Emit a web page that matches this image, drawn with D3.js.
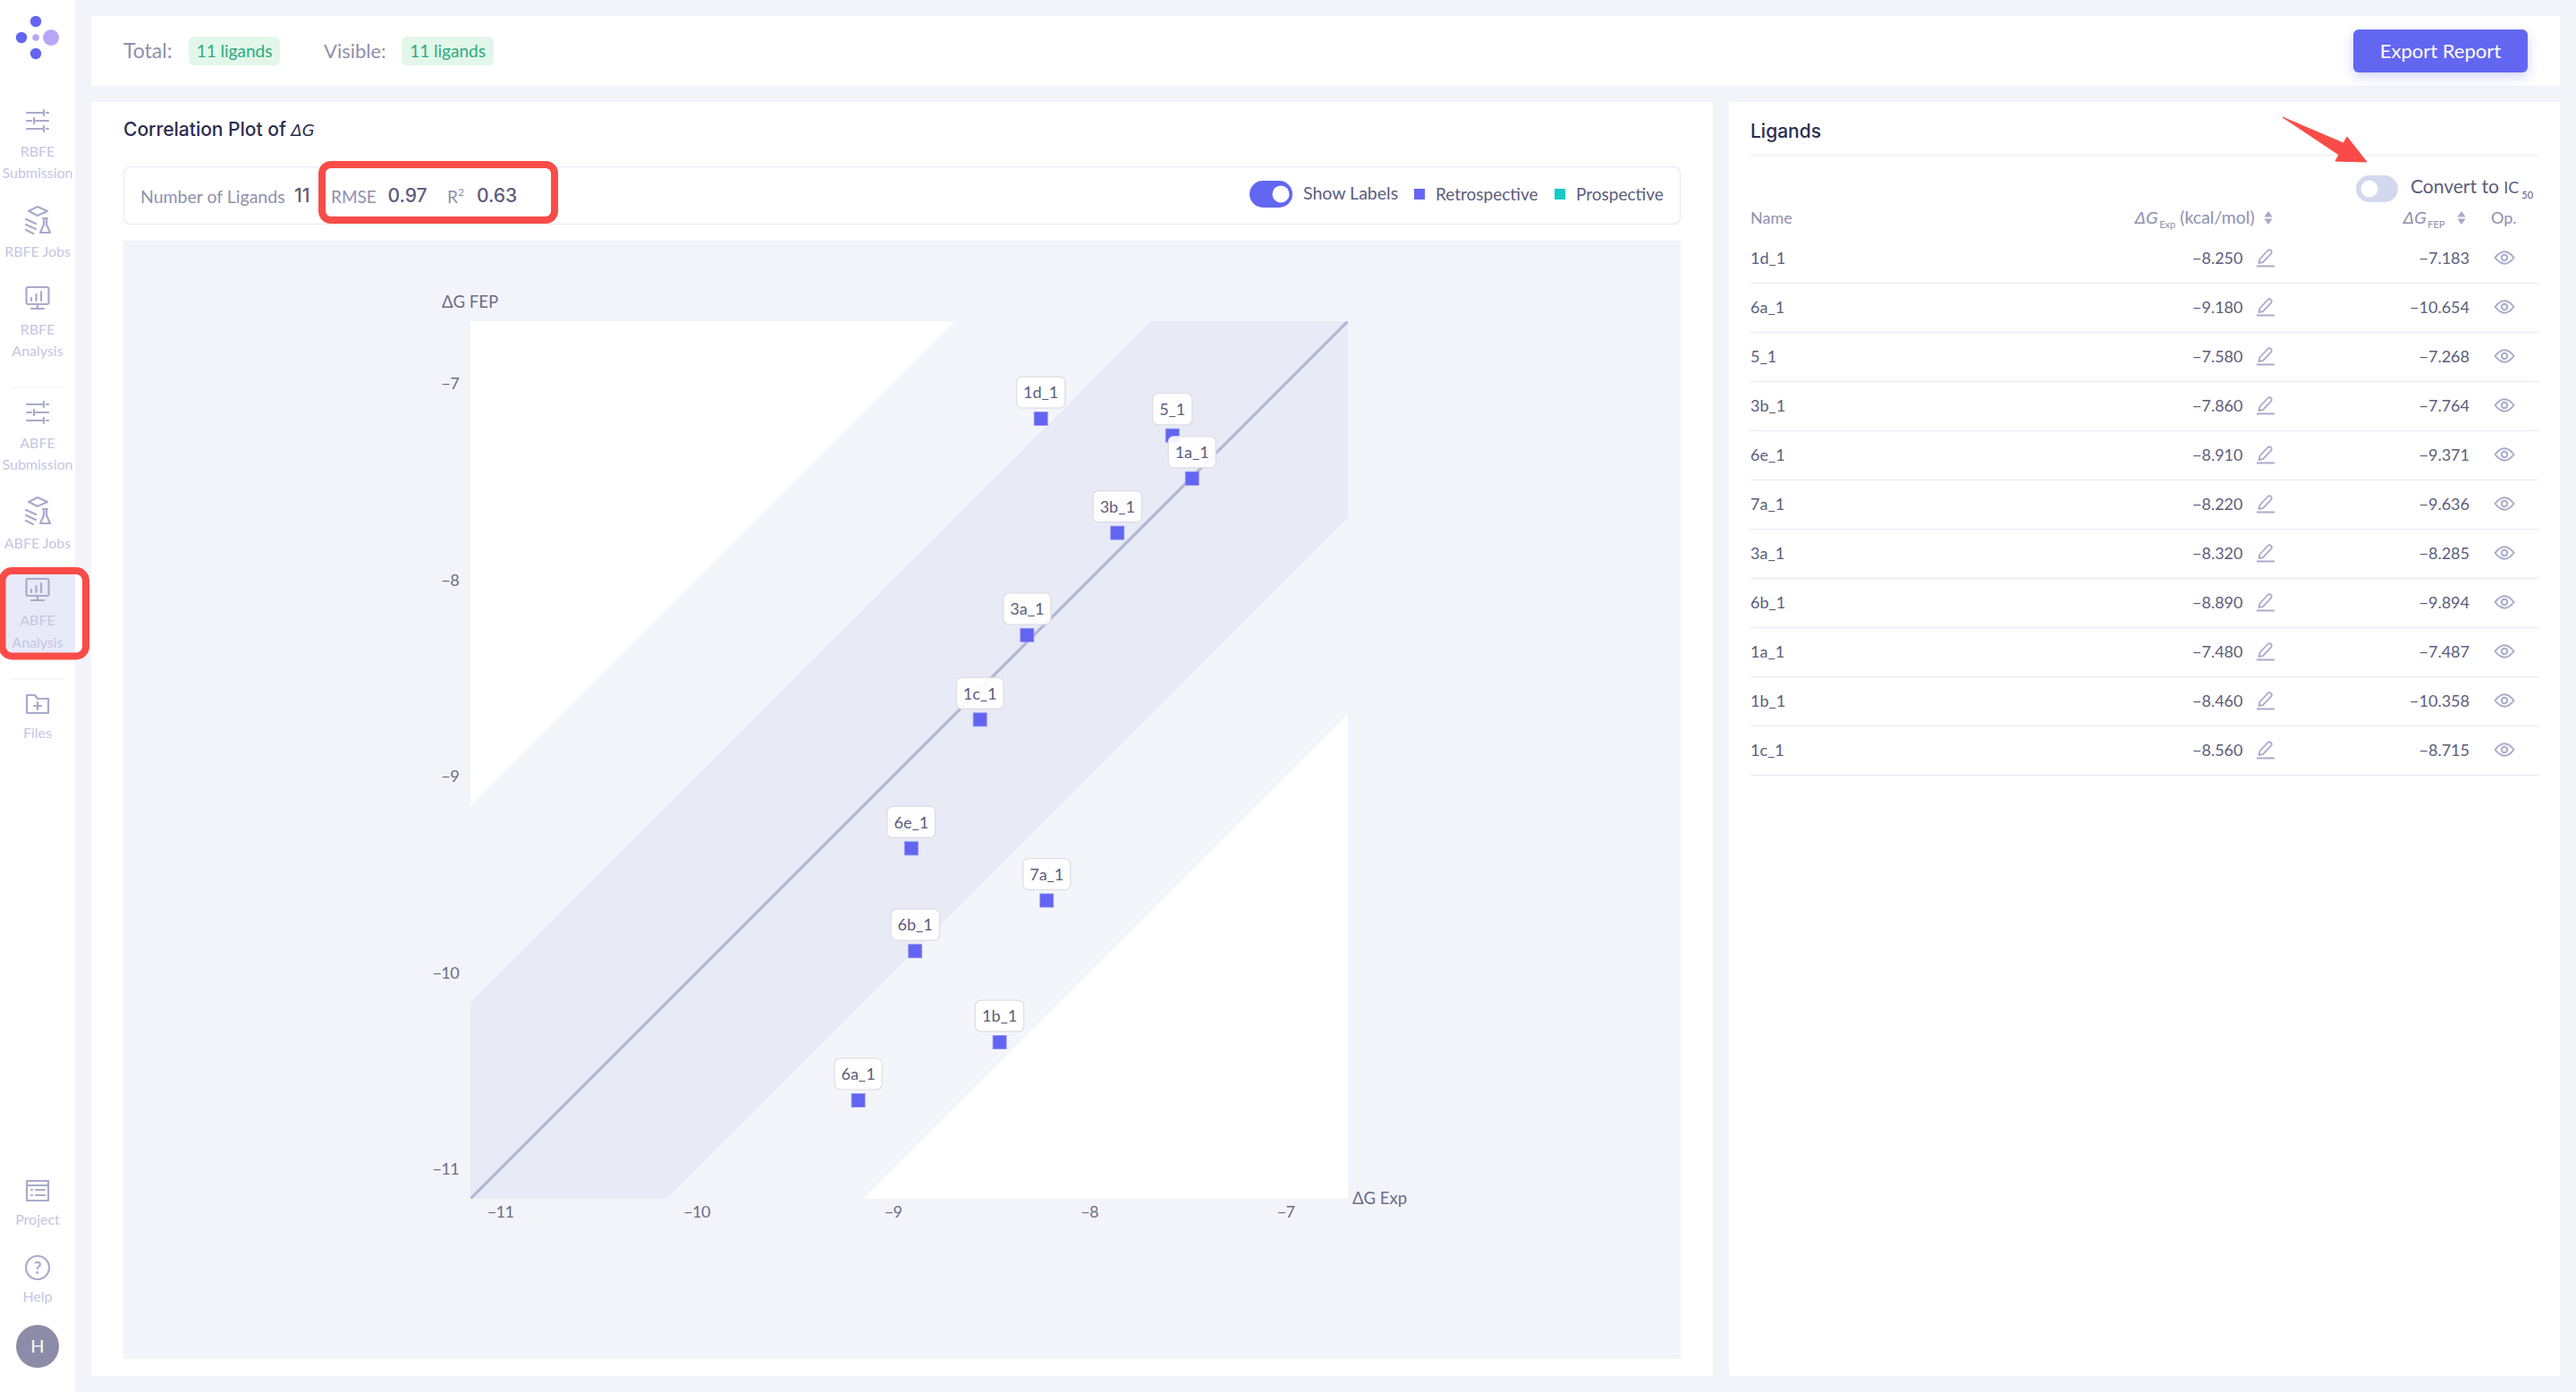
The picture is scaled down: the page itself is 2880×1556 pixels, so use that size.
<!DOCTYPE html>
<html><head><meta charset="utf-8">
<script src="https://cdn.jsdelivr.net/npm/d3@7"></script>
<style>
html,body{margin:0;padding:0;background:#f3f4f9;overflow:hidden}
svg{display:block}
text{font-family:Lato,"Open Sans",sans-serif}
</style></head><body><svg id="c" width="2880" height="1556"></svg>
<script>
// ---- data ----
const ligandNames=["1d_1","6a_1","5_1","3b_1","6e_1","7a_1","3a_1","6b_1","1a_1","1b_1","1c_1"];
const dgExp=[-8.25,-9.18,-7.58,-7.86,-8.91,-8.22,-8.32,-8.89,-7.48,-8.46,-8.56];
const dgFep=[-7.183,-10.654,-7.268,-7.764,-9.371,-9.636,-8.285,-9.894,-7.487,-10.358,-8.715];
const axisTicks=[-11,-10,-9,-8,-7];
const axisDomain=[-11.155,-6.686];
const bandWidths=[2,1];
const legendItems=["Retrospective","Prospective"];
const stats={n:"11",rmse:"0.97",r2:"0.63"};

const BG="#f3f4f9",IND="#6366f1",ICON="#a9aacb",SIDE="#c5c6e2",DARK="#2b2d4e",MID="#5c5d7c",SOFT="#8f90ae";
const HEAD="Inter";
const svg=d3.select("#c");
function R(x,y,w,h,fill,o={}){return svg.append("rect").attr("x",x).attr("y",y).attr("width",w).attr("height",h).attr("fill",fill).attr("rx",o.r||0).attr("stroke",o.stroke||"none").attr("stroke-width",o.sw||0);}
function T(x,y,s,size,fill,o={}){return (o.g||svg).append("text").attr("x",x).attr("y",y).attr("dy","0.35em").attr("font-size",size).attr("fill",fill).attr("text-anchor",o.a||"start").attr("font-weight",o.w||400).attr("font-style",o.i?"italic":null).text(s);}

// ---- page frame ----
R(0,0,2880,1556,BG);
R(0,0,84,1556,"#fff");
R(102,18,2760,78,"#fff");
R(102,114,1813,1424,"#fff");
R(1933,114,929,1424,"#fff");

// ---- top bar ----
T(138,57,"Total:",23,SOFT);
R(211,41,102,32,"#e2f7e9",{r:6});
T(262,57,"11 ligands",19,"#2fa97f",{a:"middle"});
T(362,57,"Visible:",22,SOFT);
R(449,41,103,32,"#e2f7e9",{r:6});
T(500.5,57,"11 ligands",19,"#2fa97f",{a:"middle"});
R(2631,33,195,48,IND,{r:6}).style("filter","drop-shadow(0 5px 7px rgba(99,102,241,.28))");
T(2728.5,57,"Export Report",22,"#fff",{a:"middle"});

// ---- left panel header ----
const title=T(138,145,"Correlation Plot of ",21,DARK,{w:500}).style("font-family",HEAD);
title.append("tspan").attr("font-style","italic").attr("font-size",18).style("font-family","'DejaVu Sans'").text("ΔG");
R(138.5,186.5,1740,64,"#fff",{r:7,stroke:"#ececf8",sw:1.5});
T(157,220,"Number of Ligands",19.5,SOFT);
T(329,219,stats.n,21,MID,{w:500}).style("font-family",HEAD);
T(370,220,"RMSE",19,SOFT);
T(433.5,219,stats.rmse,21,MID,{w:500}).style("font-family",HEAD);
const r2=T(500,220,"R",19,SOFT);
r2.append("tspan").attr("font-size",12).attr("dy","-0.6em").text("2");
T(533,219,stats.r2,21,MID,{w:500}).style("font-family",HEAD);

// toggle and legend
R(1397,202,48,30,IND,{r:15});
svg.append("circle").attr("cx",1432).attr("cy",217).attr("r",9.5).attr("fill","#fff");
T(1457,216,"Show Labels",19.5,MID);
R(1581,211,12,12,IND);
T(1605,217,legendItems[0],19,MID);
R(1738,211,12,12,"#17c9c9");
T(1762,217,legendItems[1],19,MID);

// ---- plot ----
R(138,269,1741,1250,BG);
const x=d3.scaleLinear().domain(axisDomain).range([526,1507]);
const y=d3.scaleLinear().domain(axisDomain).range([1340,359]);
svg.append("clipPath").attr("id","plotClip").append("rect").attr("x",526).attr("y",359).attr("width",981).attr("height",981);
R(526,359,981,981,"#fff");
const plot=svg.append("g").attr("clip-path","url(#plotClip)");
const bandFill=["#f4f5fb","#e8eaf6"];
bandWidths.forEach((k,i)=>{
  plot.append("path").datum(axisDomain)
    .attr("fill",bandFill[i])
    .attr("d",d3.area().x(d=>x(d)).y0(d=>y(d-k)).y1(d=>y(d+k)));
});
plot.append("path").datum(axisDomain).attr("fill","none").attr("stroke","#b4b5d5").attr("stroke-width",3.2)
  .attr("d",d3.line().x(d=>x(d)).y(d=>y(d)));

const fmtTick=d3.format("d");
const gx=svg.append("g").attr("transform","translate(-1,1341)").call(d3.axisBottom(x).tickValues(axisTicks).tickFormat(fmtTick).tickSize(0).tickPadding(7));
const gy=svg.append("g").attr("transform","translate(526,1)").call(d3.axisLeft(y).tickValues(axisTicks).tickFormat(fmtTick).tickSize(0).tickPadding(13));
[gx,gy].forEach(g=>{g.select(".domain").remove();g.selectAll("text").attr("font-size",18).attr("fill","#6c6d88").attr("font-family","Lato").attr("letter-spacing",-.6);});
T(494,338,"ΔG FEP",18.5,"#6c6d88");
T(1512,1340,"ΔG Exp",18.5,"#6c6d88");

const pts=ligandNames.map((n,i)=>({n,ex:dgExp[i],fe:dgFep[i]}));
const pg=svg.append("g");
pg.selectAll("rect.pt").data(pts).join("rect").attr("class","pt")
  .attr("x",d=>x(d.ex)-7.5).attr("y",d=>y(d.fe)-7.5).attr("width",15).attr("height",15)
  .attr("fill","#6264f2").attr("stroke","#8d8ff5").attr("stroke-width",.8);
pts.forEach(d=>{
  const g=pg.append("g");
  const box=g.append("rect");
  const t=T(x(d.ex),y(d.fe)-29,d.n,18,MID,{a:"middle",g});
  const w=t.node().getComputedTextLength()+15;
  box.attr("x",x(d.ex)-w/2).attr("y",y(d.fe)-47).attr("width",w).attr("height",35).attr("rx",6)
    .attr("fill","rgba(255,255,255,.92)").attr("stroke","#dcdce2").attr("stroke-width",1.2);
});

// ---- right table ----
T(1957,147,"Ligands",21,DARK,{w:500}).style("font-family",HEAD);
svg.append("line").attr("x1",1957).attr("x2",2838).attr("y1",173.5).attr("y2",173.5).attr("stroke","#eeeef5").attr("stroke-width",1.5);
R(2634,196,47,30,"#d3d8ef",{r:15});
svg.append("circle").attr("cx",2649).attr("cy",211).attr("r",9.5).attr("fill","#fff");
const conv=T(2695,209,"Convert to ",21,MID);
conv.append("tspan").text("IC").attr("font-size",18);
conv.append("tspan").text("50").attr("font-size",11).attr("dy","0.5em").attr("dx",3);

T(1957,244,"Name",18,SOFT);
function dgHead(xp,sub,tail){
  const t=T(xp,244,"",18,SOFT);
  t.append("tspan").text("ΔG").attr("font-style","italic").style("font-family","'DejaVu Sans'").attr("font-size",18);
  t.append("tspan").text(sub).attr("font-size",11).attr("dy","0.45em").attr("dx",1);
  if(tail) t.append("tspan").text(tail).attr("font-size",19.5).attr("dy","-0.25em").attr("dx",0);
}
dgHead(2387,"Exp"," (kcal/mol)");
dgHead(2687,"FEP");
function sortArrows(cx){
  svg.append("path").attr("fill",ICON).attr("d",`M${cx} 236 l4.6 6.5 h-9.2z M${cx} 251 l4.6 -6.5 h-9.2z`);
}
sortArrows(2536);sortArrows(2752);
T(2785,244,"Op.",18,SOFT);

const f3=d3.format(".3f");
const rowY=i=>289+i*55;
pts.forEach((d,i)=>{
  const yy=rowY(i);
  T(1957,yy,d.n,18,MID);
  T(2507.5,yy,f3(d.ex),18,MID,{a:"end"});
  T(2761,yy,f3(d.fe),18,MID,{a:"end"});
  // pencil
  svg.append("path").attr("fill","none").attr("stroke",ICON).attr("stroke-width",1.8).attr("stroke-linejoin","round")
    .attr("d",`M2525.5 ${yy+5} l1 -4.5 l9 -9.5 a2.3 2.3 0 0 1 3.5 3.6 l-9 9.6 z`);
  svg.append("line").attr("x1",2523).attr("x2",2543).attr("y1",yy+8.5).attr("y2",yy+8.5).attr("stroke",ICON).attr("stroke-width",2);
  // eye
  const ey=yy-1;
  svg.append("path").attr("fill","none").attr("stroke",ICON).attr("stroke-width",2)
    .attr("d",`M2789.5 ${ey} q10.5 -13.5 21 0 q-10.5 13.5 -21 0z`);
  svg.append("circle").attr("cx",2800).attr("cy",ey).attr("r",3.2).attr("fill","none").attr("stroke",ICON).attr("stroke-width",2);
  svg.append("line").attr("x1",1957).attr("x2",2838).attr("y1",yy+27.5).attr("y2",yy+27.5).attr("stroke","#ebebf7").attr("stroke-width",1.5);
});

// ---- sidebar ----
const logo=[[40,24,6.2,IND],[24,42,6.2,IND],[40,60,6.2,IND],[40,42,3.8,"#b7a6f6"],[57,42,9,"#b7a6f6"]];
logo.forEach(d=>svg.append("circle").attr("cx",d[0]).attr("cy",d[1]).attr("r",d[2]).attr("fill",d[3]));
const stroke=g=>g.attr("fill","none").attr("stroke",ICON).attr("stroke-width",2.2).attr("stroke-linecap","round").attr("stroke-linejoin","round");
function icon(cx,cy,d){stroke(svg.append("path")).attr("transform",`translate(${cx},${cy})`).attr("d",d);}
const sliders="M-12 -9H5M10 -9H12M-12 0H-7M-2 0H12M-12 9H5M10 9H12M7 -12V-6M-4 -3V3M7 6V12";
const jobs="M-10 -12L0 -17L11 -12L0 -7ZM-13 -3L-2 2M-13 3L-2 8M-13 9L-5 13M6 -4H11M7 -4V3L3 12H14L10 3V-4";
const monitor="M-11 -12H11A1.5 1.5 0 0 1 12.5 -10.5V5.5A1.5 1.5 0 0 1 11 7H-11A1.5 1.5 0 0 1 -12.5 5.5V-10.5A1.5 1.5 0 0 1 -11 -12ZM-7 3V0M-1.5 3V-4M4 3V-7M0 7V12M-7 12H7";
const folder="M-12 -10H-3L0 -6H12V10H-12ZM-4 2H4M0 -2V6";
const project="M-12 -11H12V11H-12ZM-12 -6H12M-7 -1H-6M-2 -1H8M-7 5H-6M-2 5H8";
const sideItems=[
 {d:sliders,iy:135,l:[["RBFE",169],["Submission",193]]},
 {d:jobs,iy:248,l:[["RBFE Jobs",281]]},
 {d:monitor,iy:333,l:[["RBFE",368],["Analysis",392]]},
 {d:sliders,iy:461,l:[["ABFE",495],["Submission",519]]},
 {d:jobs,iy:573,l:[["ABFE Jobs",607]]},
 {d:monitor,iy:659,l:[["ABFE",693],["Analysis",718]],active:true},
 {d:folder,iy:787,l:[["Files",819]]},
 {d:project,iy:1331,l:[["Project",1363]]},
 {iy:1417,l:[["Help",1449]],help:true}
];
[433,759].forEach(v=>svg.append("line").attr("x1",12).attr("x2",72).attr("y1",v).attr("y2",v).attr("stroke","#eeeef5").attr("stroke-width",1.2));
R(6,642,86,88,"#fff");
R(6,642,78,88,"#e8eaf9");
R(2.5,638,93.5,95.5,"none",{r:11,stroke:"#f94c48",sw:8});
sideItems.forEach(s=>{
  if(s.help){
    stroke(svg.append("circle")).attr("cx",42).attr("cy",s.iy).attr("r",13);
    T(42,s.iy,"?",19,ICON,{a:"middle",w:700});
  } else icon(42,s.iy,s.d);
  s.l.forEach(l=>T(42,l[1],l[0],16,SIDE,{a:"middle"}));
});
svg.append("circle").attr("cx",42).attr("cy",1505).attr("r",24).attr("fill","#8c8ca8");
T(42,1505,"H",20,"#fff",{a:"middle"});

// ---- annotations ----
R(360,184,260,62,"none",{r:10,stroke:"#f94c48",sw:8});
svg.append("path").attr("fill","#f94c48").attr("stroke","#f94c48").attr("stroke-width",1).attr("stroke-linejoin","round")
  .attr("d","M2552 131L2620 160L2624 153L2646 181L2611 180L2615 173Z");
</script></body></html>
